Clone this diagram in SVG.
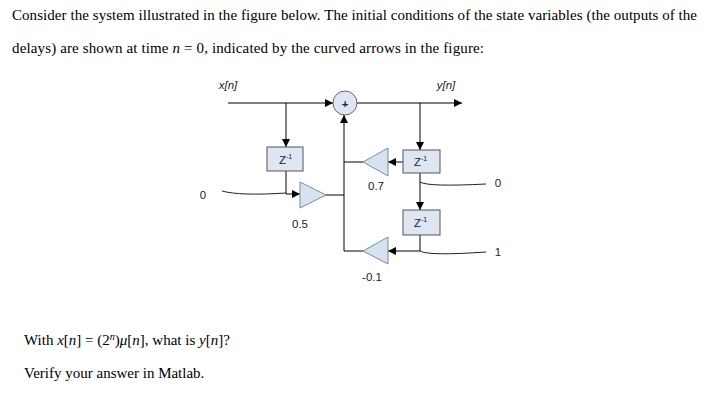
<svg xmlns="http://www.w3.org/2000/svg" width="725" height="410" viewBox="0 0 725 410">
<style>
.t{font-family:"Liberation Serif",serif;font-size:15px;fill:#000}
.s{font-family:"Liberation Sans",Arial,sans-serif;font-size:11.5px;fill:#222}
.w{stroke:#000;stroke-width:1;fill:none}
.box{fill:#dde6f2;stroke:#555;stroke-width:1}
.tri{fill:#d7e2f0;stroke:#7a8aa0;stroke-width:1}
.c{stroke:#222;stroke-width:1;fill:none}
</style>
<defs><marker id="a" viewBox="0 0 10 10" refX="10" refY="5" markerWidth="8" markerHeight="8" orient="auto" markerUnits="userSpaceOnUse"><path d="M0,0L10,5L0,10z" fill="#000"/></marker></defs>
<rect width="725" height="410" fill="#fff"/>
<text class="t" x="12" y="20" textLength="685" lengthAdjust="spacing">Consider the system illustrated in the figure below. The initial conditions of the state variables (the outputs of the</text>
<text class="t" x="12" y="53" textLength="472" lengthAdjust="spacing">delays) are shown at time <tspan font-style="italic">n</tspan> = 0, indicated by the curved arrows in the figure:</text>
<text class="t" x="24" y="345">With <tspan font-style="italic">x</tspan>[<tspan font-style="italic">n</tspan>] = (2<tspan font-size="10" dy="-5" font-style="italic">n</tspan><tspan dy="5">)</tspan><tspan font-style="italic">μ</tspan>[<tspan font-style="italic">n</tspan>], what is <tspan font-style="italic">y</tspan>[<tspan font-style="italic">n</tspan>]?</text>
<text class="t" x="24" y="378">Verify your answer in Matlab.</text>
<g id="connectors">
<path class="w" d="M228,103H333" marker-end="url(#a)"/>
<path class="w" d="M357,103H462" marker-end="url(#a)"/>
<path class="w" d="M286,103V147" marker-end="url(#a)"/>
<path class="w" d="M286,171V194H300" marker-end="url(#a)"/>
<path class="w" d="M326,195H344"/>
<path class="w" d="M344,251V115" marker-end="url(#a)"/>
<path class="w" d="M363,162H344"/>
<path class="w" d="M363,251H344"/>
<path class="w" d="M420,103V150" marker-end="url(#a)"/>
<path class="w" d="M403,162H388" marker-end="url(#a)"/>
<path class="w" d="M420,173V210" marker-end="url(#a)"/>
<path class="w" d="M420,235V251H388" marker-end="url(#a)"/>
<path class="c" d="M222,191Q240,196 286,193"/>
<path class="c" d="M420,182Q428,187 486,184"/>
<path class="c" d="M420,251Q428,256 486,252"/>
</g>
<g id="sum"><circle cx="345" cy="103" r="12" fill="#dde6f2" stroke="#666"/><text class="s" x="345" y="108" text-anchor="middle" font-size="14" font-weight="bold">+</text></g>
<g id="z1"><rect class="box" x="267" y="147" width="36" height="24"/><text class="s" x="279" y="164">Z<tspan font-size="7" dy="-5">-1</tspan></text></g>
<g id="z2"><rect class="box" x="403" y="150" width="37" height="23"/><text class="s" x="414" y="166">Z<tspan font-size="7" dy="-5">-1</tspan></text></g>
<g id="z3"><rect class="box" x="403" y="210" width="37" height="25"/><text class="s" x="414" y="227">Z<tspan font-size="7" dy="-5">-1</tspan></text></g>
<g id="g05"><path class="tri" d="M300,182L326,195L300,208z"/><text class="s" x="300" y="228" text-anchor="middle">0.5</text></g>
<g id="g07"><path class="tri" d="M388,148L363,162L388,176z"/><text class="s" x="376" y="190" text-anchor="middle">0.7</text></g>
<g id="gm01"><path class="tri" d="M388,237L363,251L388,264z"/><text class="s" x="372" y="281" text-anchor="middle">-0.1</text></g>
<g id="labels">
<text class="s" x="228" y="89" font-style="italic" text-anchor="middle">x[n]</text>
<text class="s" x="446" y="89" font-style="italic" text-anchor="middle">y[n]</text>
<text class="s" x="203" y="199" text-anchor="middle">0</text>
<text class="s" x="498" y="187" text-anchor="middle">0</text>
<text class="s" x="498" y="256" text-anchor="middle">1</text>
</g>
</svg>
